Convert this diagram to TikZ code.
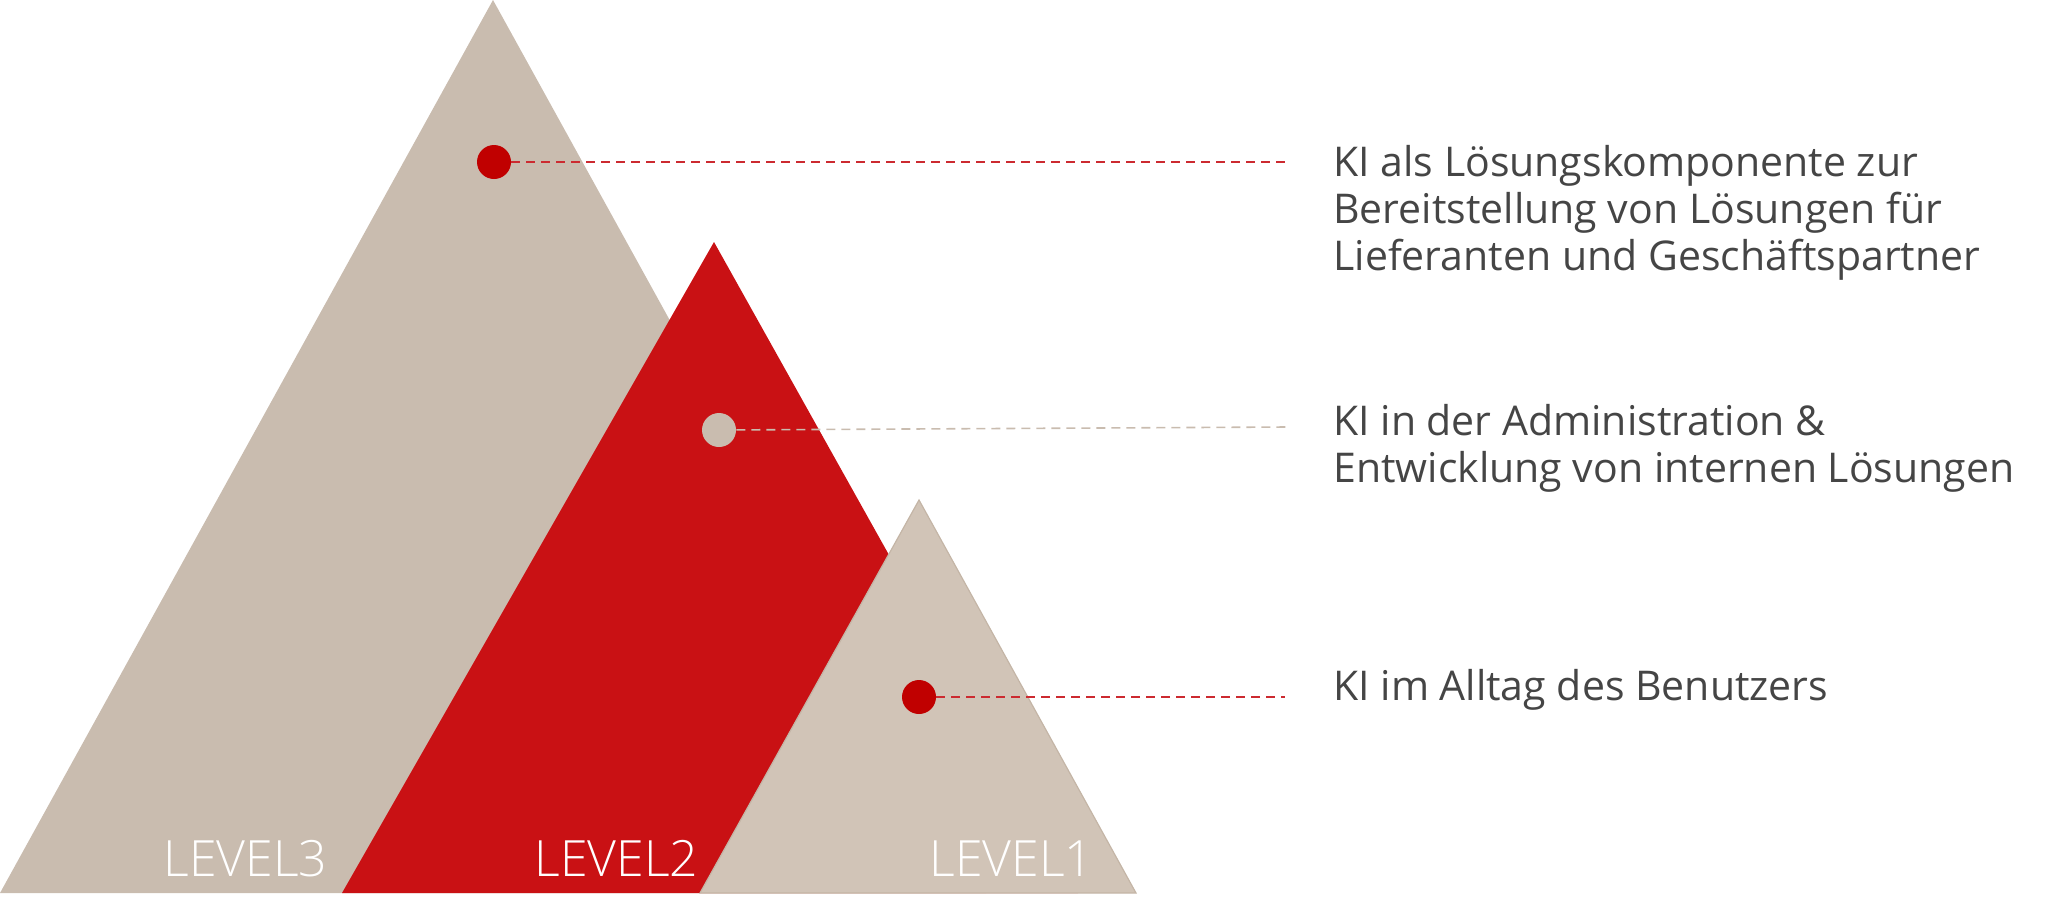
\documentclass[tikz,border=0pt]{standalone}
\usepackage{fontspec}
\setmainfont{Open Sans}
\newfontfamily\levelfont{Open Sans Light}
\usepackage{tikz}
\usetikzlibrary{positioning}
\definecolor{sand}{HTML}{C9BCAF}
\definecolor{sandlight}{HTML}{D1C4B7}
\definecolor{sandedge}{HTML}{C4B5A6}
\definecolor{peakred}{HTML}{C91114}
\definecolor{dotred}{HTML}{C00000}
\definecolor{leaderred}{HTML}{CC2A30}
\definecolor{textgray}{HTML}{454545}
\tikzset{x=0.5pt,y=-0.5pt,
    dot/.style={circle,inner sep=0pt,minimum size=17pt},
    reddot/.style={dot,fill=dotred},
    sanddot/.style={dot,fill=sand},
    leader/.style={line width=0.8pt,dash pattern=on 4.5pt off 3pt},
    caption/.style={anchor=north west,align=left,inner sep=0pt,text=textgray,
        font=\fontsize{20.5}{23.5}\selectfont},
    levellabel/.style={anchor=base west,inner sep=0pt,text=white,
        font=\levelfont\fontsize{25}{30}\selectfont}}

\begin{document}
\begin{tikzpicture}
\useasboundingbox (0,0) rectangle (2048,922);
% peaks
\fill[sand] (0,893) -- (493,0) -- (986,893) -- cycle;
\fill[peakred] (342,893) -- (714,242) -- (1078,893) -- cycle;
\filldraw[fill=sandlight,draw=sandedge,line width=0.6pt] (700,893) -- (919,500) -- (1136,893) -- cycle;
\node[levellabel] (l3) at (163,876) {LEVEL3};
\node[levellabel] (l2) at (534,876) {LEVEL2};
\node[levellabel] (l1) at (929,876) {LEVEL1};
% markers
\node[reddot]  (d3) at (494,162) {};
\node[sanddot] (d2) at (719,430) {};
\node[reddot]  (d1) at (919,697) {};
\coordinate (e3) at (1287,162);
\coordinate (e2) at (1287,427);
\coordinate (e1) at (1285,697);
\draw[leader,leaderred] (d3) -- (e3);
\draw[leader,sand]      (d2) -- (e2);
\draw[leader,leaderred] (d1) -- (e1);
\node[caption] (t3) at (1333,145) {KI als Lösungskomponente zur\\Bereitstellung von Lösungen für\\Lieferanten und Geschäftspartner};
\node[caption] (t2) at (1333,404) {KI in der Administration \&\\Entwicklung von internen Lösungen};
\node[caption] (t1) at (1333,669) {KI im Alltag des Benutzers};
\end{tikzpicture}
\end{document}
